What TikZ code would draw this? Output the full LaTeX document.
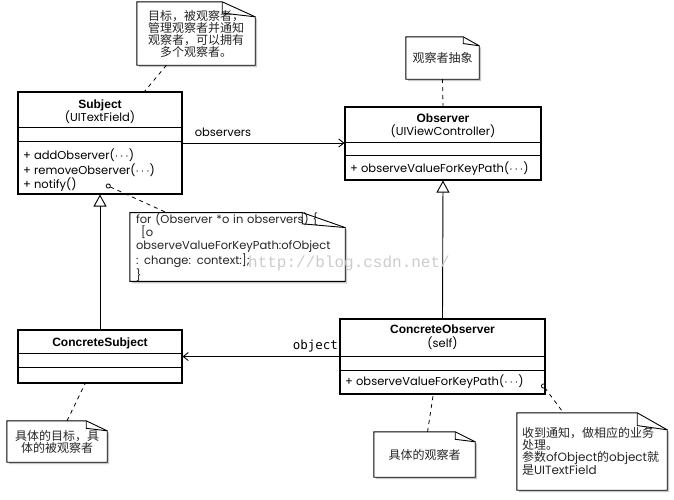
\documentclass[tikz,border=0pt]{standalone}
\usepackage{fontspec}
\setmainfont{Poppins}
\newfontfamily\cjk{Noto Sans CJK SC}
\newfontfamily\namefont{Liberation Sans}
\newfontfamily\codefont{DejaVu Sans Mono}
\newfontfamily\markfont{Liberation Mono}
\usetikzlibrary{arrows.meta,calc,positioning,backgrounds}
\newcommand\notefold[3]{%
  \begin{scope}[on background layer]
    \fill[black!22] ([shift={(2,2)}]#1.north west) -- ([shift={(2-#2,2)}]#1.north east) -- ([shift={(2,2+#3)}]#1.north east) -- ([shift={(2,2)}]#1.south east) -- ([shift={(2,2)}]#1.south west) -- cycle;
  \end{scope}
  \draw[noteline] (#1.north west) -- ([xshift=-#2pt]#1.north east) -- ([yshift=-#3pt]#1.north east) -- (#1.south east) -- (#1.south west) -- cycle;
  \draw[noteline] ([xshift=-#2pt]#1.north east) -- ([shift={(-#2,0.75*#3)}]#1.north east) -- ([yshift=-#3pt]#1.north east);
}
\begin{document}
\begin{tikzpicture}[x=1pt,y=-1pt,
  umlclass/.style={draw, line width=1.1pt, inner sep=0pt},
  clsname/.style={font=\namefont\bfseries\fontsize{12}{12}\selectfont, inner sep=0pt, anchor=base},
  clsnote/.style={font=\fontsize{11.5}{12}\selectfont, inner sep=0pt, anchor=base},
  member/.style={font=\fontsize{11.5}{12}\selectfont, inner sep=0pt, anchor=base west},
  notebox/.style={fill=white, inner sep=0pt, text=black!85, font=\cjk\fontsize{12}{12}\selectfont, align=center},
  noteline/.style={line width=0.9pt},
  inherit/.style={line width=0.9pt, -{Triangle[open, length=12pt, width=13pt]}},
  assoc/.style={line width=0.9pt, -{Straight Barb[length=5pt, width=8pt]}},
  anchorline/.style={line width=0.8pt, dash pattern=on 4pt off 4pt},
]
\useasboundingbox (0,0) rectangle (674,499);

\node[umlclass, minimum width=164pt, minimum height=102pt] (subj) at (100,143) {};
\node[umlclass, minimum width=196pt, minimum height=73pt] (obs) at (443,143.5) {};
\node[umlclass, minimum width=164pt, minimum height=53pt] (csub) at (100,356.5) {};
\node[umlclass, minimum width=205pt, minimum height=75pt] (cobs) at (442.5,356.5) {};
\foreach \cls/\dy in {subj/36, subj/50, obs/36, obs/49, csub/24, csub/38, cobs/38, cobs/52}
  \draw[line width=1.1pt] ([yshift=-\dy pt]\cls.north west) -- ([yshift=-\dy pt]\cls.north east);

\node[clsname] (subjname) at (100,108) {Subject};
\node[clsnote] (subjtype) at (100,121) {(UITextField)};
\node[member] (subjadd) at (23,159) {+ addObserver($\cdots$)};
\node[member] (subjremove) at (23,174) {+ removeObserver($\cdots$)};
\node[member] (subjnotify) at (23,188) {+ notify()};

\node[clsname] (obsname) at (443,122) {Observer};
\node[clsnote] (obstype) at (443,135) {(UIViewController)};
\node[member] (obsobserve) at (350,172) {+ observeValueForKeyPath($\cdots$)};

\node[clsname] (csubname) at (100,346) {ConcreteSubject};

\node[clsname] (cobsname) at (442.5,333) {ConcreteObserver};
\node[clsnote] (cobstype) at (442.5,347) {(self)};
\node[member] (cobsobserve) at (345,385) {+ observeValueForKeyPath($\cdots$)};

\node[notebox, minimum width=118pt, minimum height=63pt] (nsubj) at (196,33.5)
  {目标，被观察者，\\管理观察者并通知\\观察者，可以拥有\\多个观察者。};
\node[notebox, minimum width=73pt, minimum height=42pt] (nobs) at (442.5,58) {观察者抽象};
\node[notebox, minimum width=215pt, minimum height=68pt, text width=203pt, align=left,
  font=\rmfamily\fontsize{11.5}{13}\selectfont] (nloop) at (237.5,247)
  {for (Observer *o in observers) \{\\\hspace*{5pt}[o\\observeValueForKeyPath:ofObject\\: change: context:];\\\}};
\node[notebox, minimum width=100pt, minimum height=41pt] (ncsub) at (57,441.5) {具体的目标，具\\体的被观察者};
\node[notebox, minimum width=101pt, minimum height=45pt] (ncobs) at (424.5,454.5) {具体的观察者};
\node[notebox, minimum width=150pt, minimum height=77pt, text width=140pt, align=left] (nrecv) at (592,451.5)
  {收到通知，做相应的业务\\处理。\\参数{\rmfamily ofObject}的{\rmfamily object}就\\是{\rmfamily UITextField}};

\notefold{nsubj}{33}{15}
\notefold{nobs}{16}{9}
\notefold{nloop}{43}{15}
\notefold{ncsub}{21}{10}
\notefold{ncobs}{20}{10}
\notefold{nrecv}{30}{17}

\draw[assoc] (subj.east) -- (subj.east -| obs.west)
  node[pos=0.25, above=3pt, font=\fontsize{11.5}{12}\selectfont] (lobservers) {observers};
\draw[assoc] (cobs.west) -- (csub.east)
  node[pos=0, anchor=south east, inner sep=1pt, yshift=3pt, font=\codefont\fontsize{12.5}{13}\selectfont] (lobject) {object};
\draw[inherit] (csub.north) -- (subj.south);
\draw[inherit] (cobs.north) -- (obs.south);

\coordinate (notifypt) at (106,185);
\coordinate (observept) at (542,384);
\draw[anchorline] ($(nsubj.south west)!0.25!(nsubj.south east)$) -- ($(subj.north west)!0.77!(subj.north east)$);
\draw[anchorline] (nobs.south) -- (obs.north);
\draw[anchorline, {Circle[open, length=5pt]}-] (notifypt) -- ($(nloop.north west)!0.17!(nloop.north east)$);
\draw[anchorline] ($(ncsub.north west)!0.6!(ncsub.north east)$) -- ($(csub.south west)!0.41!(csub.south east)$);
\draw[anchorline] ($(ncobs.north west)!0.53!(ncobs.north east)$) -- ($(cobs.south west)!0.455!(cobs.south east)$);
\draw[anchorline, {Circle[open, length=5pt]}-] (observept) -- ($(nrecv.north west)!0.31!(nrecv.north east)$);

\node[font=\markfont\fontsize{16}{16}\selectfont, text=black!20] (wmark) at (349,263) {http://blog.csdn.net/};
\end{tikzpicture}
\end{document}
